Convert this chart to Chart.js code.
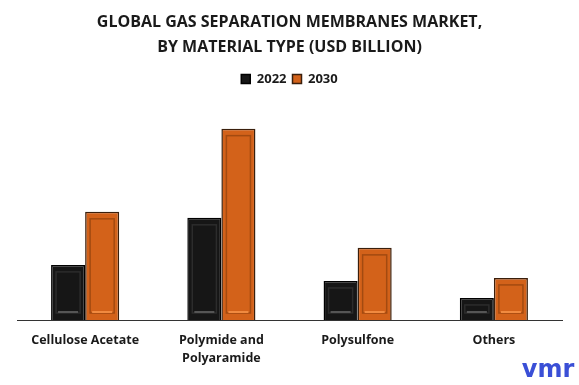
<!DOCTYPE html>
<html>
<head>
<meta charset="utf-8">
<script src="https://cdn.jsdelivr.net/npm/chart.js@4.4.0/dist/chart.umd.min.js"></script>
<style>
  html, body { margin: 0; padding: 0; background: #fff; }
  #wrap { width: 579px; height: 385px; position: relative; }
</style>
</head>
<body>
<div id="wrap"><canvas id="market" width="579" height="385"></canvas></div>
<script>
var categories = [['Cellulose Acetate'], ['Polymide and', 'Polyaramide'], ['Polysulfone'], ['Others']];
var values2022 = [0.55, 1.02, 0.39, 0.22];
var values2030 = [1.08, 1.91, 0.72, 0.42];

// inner panel + bottom highlight, gives the bevelled look of the bars
var bevel = {
  id: 'bevel',
  afterDatasetsDraw: function (chart) {
    var c = chart.ctx;
    chart.data.datasets.forEach(function (ds, i) {
      chart.getDatasetMeta(i).data.forEach(function (bar) {
        var l = bar.x - bar.width / 2, r = bar.x + bar.width / 2;
        var t = bar.y, b = bar.base;
        c.save();
        c.strokeStyle = ds.innerColor;
        c.lineWidth = 1.5;
        c.strokeRect(l + 5, t + 7, r - l - 10, b - t - 14);
        c.fillStyle = ds.shineColor;
        c.fillRect(l + 7, b - 9, r - l - 14, 2);
        c.restore();
      });
    });
  }
};

var logo = {
  id: 'logo',
  afterDraw: function (chart) {
    var c = chart.ctx;
    c.save();
    c.fillStyle = '#3a4fd6';
    c.font = 'bold 24px "DejaVu Sans"';
    c.textAlign = 'center';
    c.textBaseline = 'alphabetic';
    c.fillText('vmr', 548, 377);
    c.restore();
  }
};

new Chart(document.getElementById('market').getContext('2d'), {
  type: 'bar',
  data: {
    labels: categories,
    datasets: [
      {
        label: '2022',
        data: values2022,
        backgroundColor: '#161616',
        borderColor: '#000000',
        borderWidth: 1.5,
        innerColor: '#2c2c2c',
        shineColor: '#555555'
      },
      {
        label: '2030',
        data: values2030,
        backgroundColor: '#d3621a',
        borderColor: '#3a1f0c',
        borderWidth: 1.5,
        innerColor: '#a34a10',
        shineColor: '#f08a40'
      }
    ]
  },
  options: {
    responsive: false,
    animation: false,
    datasets: {
      bar: { categoryPercentage: 0.5, barPercentage: 1 }
    },
    layout: { padding: { left: 17, right: 17, top: 4, bottom: 6 } },
    plugins: {
      title: {
        display: true,
        text: ['GLOBAL GAS SEPARATION MEMBRANES MARKET,', 'BY MATERIAL TYPE (USD BILLION)'],
        color: '#1a1a1a',
        font: { family: '"Open Sans"', size: 16, weight: 'bold', lineHeight: 1.55 },
        padding: { top: 6, bottom: 7 }
      },
      legend: {
        position: 'top',
        labels: {
          boxWidth: 9,
          boxHeight: 9,
          color: '#1a1a1a',
          font: { family: '"Open Sans"', size: 13, weight: 'bold' },
          padding: 6
        }
      },
      tooltip: { enabled: false }
    },
    scales: {
      x: {
        grid: { display: false, drawTicks: false },
        border: { display: true, color: '#333333', width: 1 },
        ticks: {
          color: '#1a1a1a',
          font: { family: '"Open Sans"', size: 12.5, weight: 'bold', lineHeight: 1.4 },
          padding: 12,
          maxRotation: 0
        }
      },
      y: {
        display: false,
        min: 0,
        max: 2.24
      }
    }
  },
  plugins: [bevel, logo]
});
</script>
</body>
</html>
